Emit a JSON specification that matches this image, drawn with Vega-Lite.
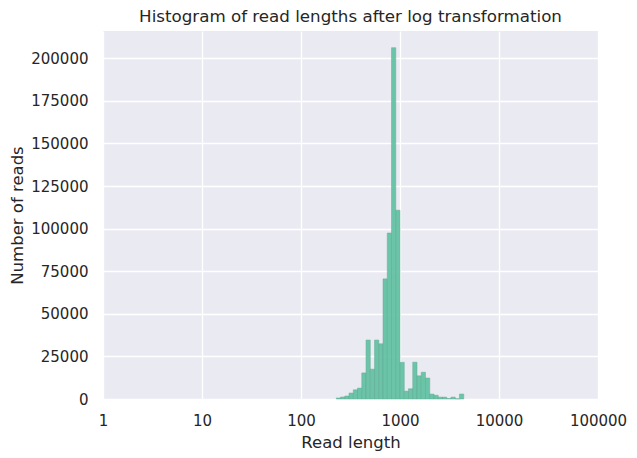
{
  "$schema": "https://vega.github.io/schema/vega-lite/v6.json",
  "width": 495,
  "height": 368,
  "autosize": {"type": "none"},
  "padding": {"left": 103, "top": 31, "right": 39, "bottom": 59},
  "background": "white",
  "title": {
    "text": "Histogram of read lengths after log transformation",
    "font": "DejaVu Sans",
    "fontSize": 16.7,
    "fontWeight": "normal",
    "color": "#262626",
    "anchor": "middle",
    "offset": 5
  },
  "data": {
    "values": [
      {"start": 227.3, "end": 250.8, "count": 600},
      {"start": 250.8, "end": 276.9, "count": 1150},
      {"start": 276.9, "end": 305.7, "count": 1750},
      {"start": 305.7, "end": 337.5, "count": 3500},
      {"start": 337.5, "end": 372.4, "count": 5400},
      {"start": 372.4, "end": 411.1, "count": 6400},
      {"start": 411.1, "end": 453.8, "count": 15300},
      {"start": 453.8, "end": 500.9, "count": 34600},
      {"start": 500.9, "end": 552.9, "count": 17500},
      {"start": 552.9, "end": 610.3, "count": 34600},
      {"start": 610.3, "end": 673.7, "count": 32400},
      {"start": 673.7, "end": 743.6, "count": 70500},
      {"start": 743.6, "end": 820.9, "count": 97400},
      {"start": 820.9, "end": 906.1, "count": 206200},
      {"start": 906.1, "end": 1000, "count": 110800},
      {"start": 1000, "end": 1104, "count": 21500},
      {"start": 1104, "end": 1218.6, "count": 4600},
      {"start": 1218.6, "end": 1345.2, "count": 6000},
      {"start": 1345.2, "end": 1484.9, "count": 21600},
      {"start": 1484.9, "end": 1639.1, "count": 13600},
      {"start": 1639.1, "end": 1809.3, "count": 15700},
      {"start": 1809.3, "end": 1997.2, "count": 12300},
      {"start": 1997.2, "end": 2204.6, "count": 2900},
      {"start": 2204.6, "end": 2433.5, "count": 2200},
      {"start": 2433.5, "end": 2685.3, "count": 1100},
      {"start": 2685.3, "end": 2964.7, "count": 1100},
      {"start": 2964.7, "end": 3272.6, "count": 300},
      {"start": 3272.6, "end": 3612.4, "count": 1100},
      {"start": 3612.4, "end": 3987.6, "count": 150},
      {"start": 3987.6, "end": 4401.8, "count": 2900}
    ]
  },
  "mark": {
    "type": "rect",
    "color": "#66c2a5",
    "opacity": 0.95,
    "stroke": "#5aa88f",
    "strokeWidth": 0.5
  },
  "encoding": {
    "x": {
      "field": "start",
      "type": "quantitative",
      "scale": {"type": "log", "domain": [1, 100000], "nice": false},
      "axis": {
        "title": "Read length",
        "values": [1, 10, 100, 1000, 10000, 100000],
        "format": "d",
        "labelPadding": 14,
        "titlePadding": 6
      }
    },
    "x2": {"field": "end"},
    "y": {
      "field": "count",
      "type": "quantitative",
      "scale": {"domain": [0, 216000], "nice": false, "zero": true},
      "axis": {
        "title": "Number of reads",
        "values": [0, 25000, 50000, 75000, 100000, 125000, 150000, 175000, 200000],
        "format": "d",
        "labelPadding": 15,
        "titlePadding": 5
      }
    },
    "y2": {"datum": 0}
  },
  "config": {
    "view": {"fill": "#eaeaf2", "stroke": null},
    "axis": {
      "domain": false,
      "ticks": false,
      "grid": true,
      "gridColor": "white",
      "gridWidth": 1.3,
      "gridOpacity": 1,
      "labelFont": "DejaVu Sans",
      "labelFontSize": 15,
      "labelColor": "#262626",
      "titleFont": "DejaVu Sans",
      "titleFontSize": 16.5,
      "titleFontWeight": "normal",
      "titleColor": "#262626",
      "labelOverlap": false,
      "labelFlush": false
    }
  }
}
